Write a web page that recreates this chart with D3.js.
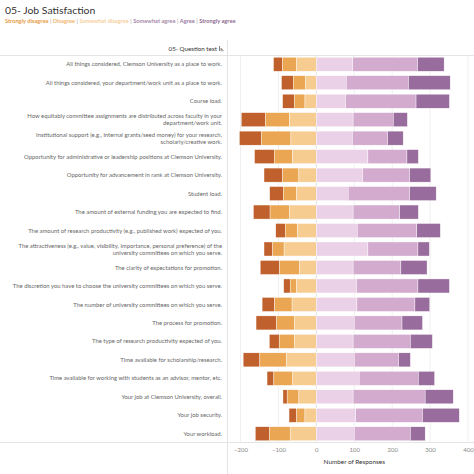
<!DOCTYPE html>
<html>
<head>
<meta charset="utf-8">
<script src="https://cdn.jsdelivr.net/npm/d3@7"></script>
<style>
  body { margin: 0; background: #fff; }
  svg { font-family: Lato, "Open Sans", sans-serif; }
</style>
</head>
<body>
<svg id="chart" width="474" height="474"></svg>
<script>
// question labels (line breaks where the original wraps)
var questions = [
  ["All things considered, Clemson University as a place to work."],
  ["All things considered, your department/work unit as a place to work."],
  ["Course load."],
  ["How equitably committee assignments are distributed across faculty in your", "department/work unit."],
  ["Institutional support (e.g., internal grants/seed money) for your research,", "scholarly/creative work."],
  ["Opportunity for administrative or leadership positions at Clemson University."],
  ["Opportunity for advancement in rank at Clemson University."],
  ["Student load."],
  ["The amount of external funding you are expected to find."],
  ["The amount of research productivity (e.g., published work) expected of you."],
  ["The attractiveness (e.g., value, visibility, importance, personal preference) of the", "university committees on which you serve."],
  ["The clarity of expectations for promotion."],
  ["The discretion you have to choose the university committees on which you serve."],
  ["The number of university committees on which you serve."],
  ["The process for promotion."],
  ["The type of research productivity expected of you."],
  ["Time available for scholarship/research."],
  ["Time available for working with students as an advisor, mentor, etc."],
  ["Your job at Clemson University, overall."],
  ["Your job security."],
  ["Your workload."]
];

var categories = ["Strongly disagree", "Disagree", "Somewhat disagree", "Somewhat agree", "Agree", "Strongly agree"];

// responses per category, one value per question (same order as above)
var stronglyDisagree = [24, 31, 31, 64, 58, 52, 49, 36, 44, 25, 23, 51, 17, 33, 54, 26, 44, 18, 11, 20, 37];
var disagree         = [37, 33, 28, 63, 78, 48, 43, 35, 52, 32, 30, 52, 17, 46, 48, 41, 70, 50, 31, 22, 55];
var somewhatDisagree = [52, 28, 30, 71, 67, 63, 46, 52, 70, 50, 85, 45, 52, 64, 57, 57, 79, 62, 46, 30, 69];
var somewhatAgree    = [96, 79, 77, 97, 95, 136, 122, 84, 97, 108, 136, 97, 106, 107, 100, 97, 100, 113, 97, 104, 100];
var agree            = [171, 164, 186, 106, 93, 103, 124, 162, 123, 157, 132, 126, 162, 153, 126, 151, 117, 156, 190, 176, 148];
var stronglyAgree    = [70, 110, 88, 37, 41, 30, 56, 70, 49, 62, 30, 69, 83, 39, 54, 58, 31, 43, 74, 97, 39];

var xTicks = [-200, -100, 0, 100, 200, 300, 400];

var colors = ["#c0612d", "#eaa652", "#f7cc90", "#ebd1e8", "#d3abcf", "#986c9c"];
var legendColors = ["#e59a45", "#f0b56c", "#f6cf9b", "#a589a8", "#9c7aa1", "#8d6a92"];

var svg = d3.select("#chart");

// title + legend
svg.append("text")
  .attr("x", 5).attr("y", 14)
  .style("font-size", "10.4px")
  .style("fill", "#333")
  .text("05- Job Satisfaction");

var legend = svg.append("text")
  .attr("x", 5).attr("y", 22.5)
  .style("font-size", "5.7px")
  .style("font-weight", "bold");
categories.forEach(function (c, i) {
  if (i > 0) legend.append("tspan").style("fill", "#999").style("font-weight", "normal").text(" | ");
  legend.append("tspan").style("fill", legendColors[i]).text(c);
});

// build rows
var rows = questions.map(function (q, i) {
  var vals = [stronglyDisagree[i], disagree[i], somewhatDisagree[i], somewhatAgree[i], agree[i], stronglyAgree[i]];
  var neg = vals[0] + vals[1] + vals[2];
  var start = -neg;
  var segs = vals.map(function (v, k) {
    var s = {x0: start, x1: start + v, k: k};
    start += v;
    return s;
  });
  return {i: i, label: q, segs: segs};
});

var x = d3.scaleLinear().domain([-200, 400]).range([240.5, 468]);
var y = d3.scaleBand().domain(d3.range(questions.length)).range([55, 443]).paddingInner(0.24).paddingOuter(0.12);

// grid lines
svg.append("g").selectAll("line")
  .data(xTicks).enter().append("line")
  .attr("x1", function (d) { return x(d); })
  .attr("x2", function (d) { return x(d); })
  .attr("y1", 55).attr("y2", 442)
  .style("stroke", function (d) { return d === 0 ? "#e2e2e2" : "#efefef"; })
  .style("stroke-width", 1);

// frame lines
svg.append("line").attr("x1", 0).attr("x2", 474).attr("y1", 55.5).attr("y2", 55.5).style("stroke", "#e4e4e4");
svg.append("line").attr("x1", 0).attr("x2", 474).attr("y1", 442.5).attr("y2", 442.5).style("stroke", "#e4e4e4");
svg.append("line").attr("x1", 227.5).attr("x2", 227.5).attr("y1", 40).attr("y2", 474).style("stroke", "#e4e4e4");

// header
svg.append("text")
  .attr("x", 217).attr("y", 51)
  .attr("text-anchor", "end")
  .style("font-size", "6.2px")
  .style("fill", "#333")
  .text("05- Question text");
var icon = svg.append("g").attr("transform", "translate(219,46)").style("fill", "#666");
icon.append("rect").attr("x", 0).attr("y", 0).attr("width", 0.8).attr("height", 5);
icon.append("rect").attr("x", 1.5).attr("y", 2).attr("width", 1.2).attr("height", 0.8);
icon.append("rect").attr("x", 1.5).attr("y", 3.3).attr("width", 2.2).attr("height", 0.8);
icon.append("rect").attr("x", 1.5).attr("y", 4.5).attr("width", 3.2).attr("height", 0.6);

// row labels
var lab = svg.append("g").selectAll("text")
  .data(rows).enter().append("text")
  .attr("text-anchor", "end")
  .attr("x", 222)
  .attr("y", function (d) {
    var c = y(d.i) + y.bandwidth() / 2;
    return c + 2.1 - (d.label.length - 1) * 3.6;
  })
  .style("font-size", "5.9px")
  .style("fill", "#666");
lab.selectAll("tspan")
  .data(function (d) { return d.label; })
  .enter().append("tspan")
  .attr("x", 222)
  .attr("dy", function (d, k) { return k === 0 ? 0 : 7.2; })
  .text(function (d) { return d; });

// bars
var rowG = svg.append("g").selectAll("g")
  .data(rows).enter().append("g")
  .attr("transform", function (d) { return "translate(0," + y(d.i) + ")"; });

rowG.selectAll("rect")
  .data(function (d) { return d.segs; })
  .enter().append("rect")
  .attr("x", function (d) { return x(d.x0); })
  .attr("width", function (d) { return x(d.x1) - x(d.x0); })
  .attr("height", y.bandwidth())
  .style("fill", function (d) { return colors[d.k]; })
  .style("stroke", "#fff")
  .style("stroke-width", 0.4);

// x axis
var xAxis = svg.append("g")
  .attr("transform", "translate(0,443)")
  .call(d3.axisBottom(x).tickValues(xTicks).tickSize(0).tickPadding(5));
xAxis.select(".domain").remove();
xAxis.selectAll("text").style("font-size", "6px").style("fill", "#888").style("font-family", "Lato, sans-serif");

svg.append("text")
  .attr("x", x(100)).attr("y", 464)
  .attr("text-anchor", "middle")
  .style("font-size", "6.4px")
  .style("fill", "#333")
  .text("Number of Responses");
</script>
</body>
</html>
